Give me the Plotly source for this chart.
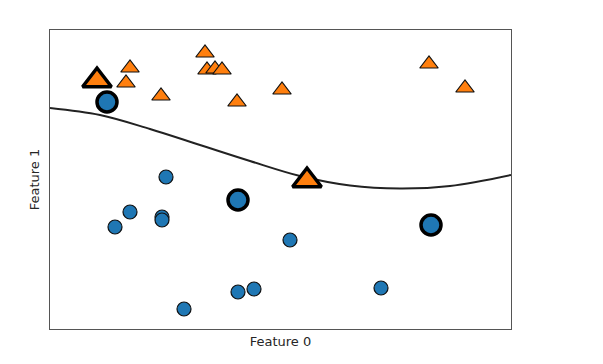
import plotly.graph_objects as go

# class 1 (triangles)
tri_x = [9.05, 9.07, 9.15, 9.22, 8.30, 8.26, 8.61, 9.37, 9.82, 11.29, 11.65]
tri_y = [4.52, 4.18, 4.20, 4.18, 4.22, 3.92, 3.66, 3.54, 3.78, 4.30, 3.82]
# class 0 (circles)
circ_x = [8.66, 8.30, 8.15, 8.62, 8.62, 9.90, 9.38, 9.54, 8.84, 10.81]
circ_y = [2.04, 1.34, 1.04, 1.24, 1.18, 0.78, -0.26, -0.20, -0.60, -0.18]
# support vectors
sv_tri_x = [7.97, 10.07]
sv_tri_y = [3.97, 1.97]
sv_circ_x = [8.07, 9.38, 11.31]
sv_circ_y = [3.54, 1.58, 1.08]
# decision boundary
bx = [7.50, 8.00, 8.50, 9.00, 9.50, 10.00, 10.50, 11.00, 11.50, 12.11]
by = [3.42, 3.28, 3.00, 2.68, 2.36, 2.06, 1.87, 1.81, 1.86, 2.08]

BLUE = "#1f77b4"
ORANGE = "#ff7f0e"

fig = go.Figure()
fig.add_trace(go.Scatter(x=bx, y=by, mode="lines",
                         line=dict(color="#222222", width=2, shape="spline", smoothing=1.0),
                         hoverinfo="skip"))
fig.add_trace(go.Scatter(x=circ_x, y=circ_y, mode="markers",
                         marker=dict(symbol="circle", size=14, color=BLUE, line=dict(color="#111111", width=1.2))))
fig.add_trace(go.Scatter(x=tri_x, y=tri_y, mode="markers",
                         marker=dict(symbol="triangle-up", size=16, color=ORANGE, line=dict(color="#111111", width=1.2))))
fig.add_trace(go.Scatter(x=sv_circ_x, y=sv_circ_y, mode="markers",
                         marker=dict(symbol="circle", size=20, color=BLUE, line=dict(color="#000000", width=3.5))))
fig.add_trace(go.Scatter(x=sv_tri_x, y=sv_tri_y, mode="markers",
                         marker=dict(symbol="triangle-up", size=25, color=ORANGE, line=dict(color="#000000", width=3.5))))

axis_common = dict(showticklabels=False, ticks="", showgrid=False, zeroline=False,
                   showline=True, mirror=True, linecolor="#555555", linewidth=1)
fig.update_layout(
    width=603, height=364,
    margin=dict(l=50, r=92, t=30, b=35),
    plot_bgcolor="white", paper_bgcolor="white",
    showlegend=False,
    font=dict(family="DejaVu Sans", size=11, color="#262626"),
    xaxis=dict(range=[7.5, 12.11], title=dict(text="Feature 0", standoff=7), **axis_common),
    yaxis=dict(range=[-1, 4.98], title=dict(text="Feature 1", standoff=6), **axis_common),
)
fig.write_html("out.html")
